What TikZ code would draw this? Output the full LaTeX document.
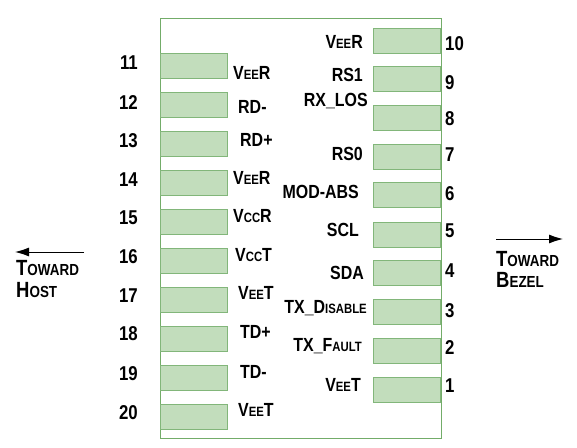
\documentclass[tikz,border=0pt]{standalone}
\usepackage{fontspec}
\setmainfont{Liberation Sans}[FakeStretch=0.84]
\usetikzlibrary{arrows.meta}
\definecolor{padfill}{RGB}{194,221,188}
\definecolor{padline}{RGB}{130,182,122}
\definecolor{boxline}{RGB}{115,172,105}
\newcommand\smc[1]{{\fontsize{13.5}{13.5}\selectfont #1}}
\newcommand\smd[1]{{\fontsize{16}{16}\selectfont #1}}
\tikzset{
  pad/.style={draw=padline, fill=padfill, line width=1.2pt, minimum width=67pt, minimum height=25pt, inner sep=0pt},
  lbl/.style={font=\bfseries\fontsize{19}{19}\selectfont, inner sep=0pt, text height=13.6pt, text depth=0pt},
  num/.style={font=\bfseries\fontsize{20}{20}\selectfont, inner sep=0pt, text height=14.3pt, text depth=0pt},
  dir/.style={font=\bfseries\fontsize{22}{22}\selectfont, inner sep=0pt, text height=15.8pt, text depth=0pt, anchor=west},
  arr/.style={line width=0.9pt, -{Latex[length=14pt,width=9pt]}}
}
\begin{document}
\begin{tikzpicture}[x=1pt,y=-1pt]
\useasboundingbox (0,0) rectangle (577,447);
\node[draw=boxline, line width=1.2pt, minimum width=281pt, minimum height=420pt, inner sep=0pt, anchor=north west] (box) at (160,18) {};
% left pads 11..20
\foreach \i/\t in {11/53,12/92,13/131,14/170,15/209,16/248,17/287,18/326,19/365,20/404}{
  \node[pad, anchor=north west] (p\i) at (160,\t) {};
}
% right pads 10..1
\foreach \i/\t in {10/28,9/66,8/105,7/144,6/182,5/222,4/260,3/299,2/338,1/377}{
  \node[pad, anchor=north east] (p\i) at (441,\t) {};
}
% left numbers
\foreach \i/\y in {11/62,12/102,13/140,14/179,15/217,16/256,17/295,18/333,19/373,20/412}{
  \node[num, anchor=east] (n\i) at (138,\y) {\i};
}
% right numbers
\foreach \i/\y in {10/43,9/82,8/118,7/154,6/193,5/230,4/270,3/310,2/347,1/385}{
  \node[num, anchor=west] (n\i) at (445,\y) {\i};
}
% left labels
\node[lbl, anchor=west] (l11) at (233,73) {V\smc{EE}R};
\node[lbl, anchor=west] (l12) at (238,107) {RD-};
\node[lbl, anchor=west] (l13) at (240,140) {RD+};
\node[lbl, anchor=west] (l14) at (233,178) {V\smc{EE}R};
\node[lbl, anchor=west] (l15) at (233,216) {V\smc{CC}R};
\node[lbl, anchor=west] (l16) at (235,255) {V\smc{CC}T};
\node[lbl, anchor=west] (l17) at (238,293) {V\smc{EE}T};
\node[lbl, anchor=west] (l18) at (240,332) {TD+};
\node[lbl, anchor=west] (l19) at (240,372) {TD-};
\node[lbl, anchor=west] (l20) at (238,410) {V\smc{EE}T};
% right labels
\node[lbl, anchor=east] (l10) at (363,42) {V\smc{EE}R};
\node[lbl, anchor=east] (l9) at (363,75) {RS1};
\node[lbl, anchor=east] (l8) at (368,100) {RX\_LOS};
\node[lbl, anchor=east] (l7) at (363,154) {RS0};
\node[lbl, anchor=east] (l6) at (359,192) {MOD-ABS};
\node[lbl, anchor=east] (l5) at (359,230) {SCL};
\node[lbl, anchor=east] (l4) at (364,273) {SDA};
\node[lbl, anchor=east] (l3) at (367,307) {TX\_D\smc{ISABLE}};
\node[lbl, anchor=east] (l2) at (362,345) {TX\_F\smc{AULT}};
\node[lbl, anchor=east] (l1) at (361,385) {V\smc{EE}T};
% direction labels
\coordinate (hs) at (84,252);
\coordinate (he) at (15,252);
\draw[arr] (hs) -- (he);
\node[dir] (th) at (16,268) {T\smd{OWARD}};
\node[dir] (hh) at (16,290) {H\smd{OST}};
\coordinate (bs) at (496,239);
\coordinate (be) at (563,239);
\draw[arr] (bs) -- (be);
\node[dir] (tb) at (496,259) {T\smd{OWARD}};
\node[dir] (bb) at (496,280) {B\smd{EZEL}};
\end{tikzpicture}
\end{document}
